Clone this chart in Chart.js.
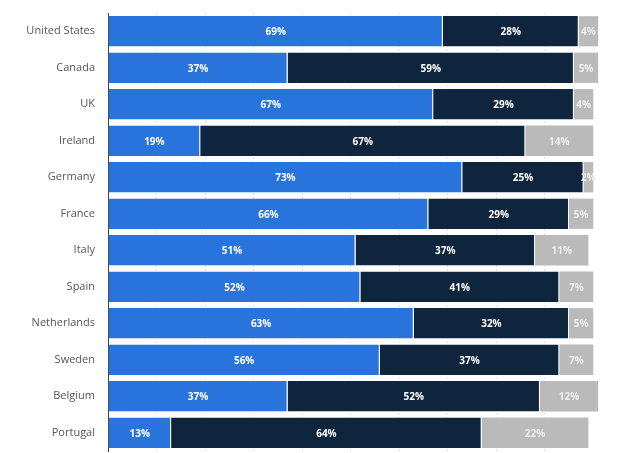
<!DOCTYPE html>
<html>
<head>
<meta charset="utf-8">
<script src="https://cdn.jsdelivr.net/npm/chart.js@4/dist/chart.umd.min.js"></script>
<style>
html,body{margin:0;padding:0;background:#fff;}
#wrap{width:638px;height:453px;position:relative;}
</style>
</head>
<body>
<div id="wrap"><canvas id="c" width="638" height="453"></canvas></div>
<script>
const countries = ["United States","Canada","UK","Ireland","Germany","France","Italy","Spain","Netherlands","Sweden","Belgium","Portugal"];
const seriesA = [69,37,67,19,73,66,51,52,63,56,37,13];
const seriesB = [28,59,29,67,25,29,37,41,32,37,52,64];
const seriesC = [4,5,4,14,2,5,11,7,5,7,12,22];

const labelPlugin = {
  id: 'segLabels',
  afterDatasetsDraw(chart) {
    const ctx = chart.ctx;
    ctx.save();
    ctx.font = 'bold 10px "Open Sans", "DejaVu Sans", sans-serif';
    ctx.textAlign = 'center';
    ctx.textBaseline = 'middle';
    chart.data.datasets.forEach((ds, di) => {
      const meta = chart.getDatasetMeta(di);
      meta.data.forEach((bar, i) => {
        const v = ds.data[i];
        const x = (bar.x + bar.base) / 2;
        ctx.fillStyle = di === 2 ? '#eeeeee' : '#ffffff';
        ctx.fillText(v + '%', x, bar.y + 1);
      });
    });
    ctx.restore();
  }
};

new Chart(document.getElementById('c'), {
  type: 'bar',
  data: {
    labels: countries,
    datasets: [
      {label: 'A', data: seriesA, backgroundColor: '#2874dc', borderColor: '#ffffff', borderWidth: {left:0, right:1, top:0, bottom:0}, borderSkipped: false, barPercentage: 0.83, categoryPercentage: 1},
      {label: 'B', data: seriesB, backgroundColor: '#0f243d', borderColor: '#ffffff', borderWidth: {left:0, right:1, top:0, bottom:0}, borderSkipped: false, barPercentage: 0.83, categoryPercentage: 1},
      {label: 'C', data: seriesC, backgroundColor: '#bababa', borderColor: '#ffffff', borderWidth: 0, barPercentage: 0.83, categoryPercentage: 1}
    ]
  },
  options: {
    indexAxis: 'y',
    responsive: false,
    animation: false,
    layout: {padding: {top: 13, bottom: 2, left: 0, right: 35}},
    plugins: {legend: {display: false}, tooltip: {enabled: false}},
    scales: {
      x: {
        stacked: true,
        min: 0,
        max: 102,
        afterFit(scale) { scale.height = 0; scale.paddingLeft = 0; scale.paddingRight = 0; },
        ticks: {display: false, stepSize: 10},
        grid: {
          drawTicks: false,
          color: (c) => (c.tick && (c.tick.value > 100 || c.tick.value === 0)) ? 'rgba(0,0,0,0)' : '#e4e4e4',
          lineWidth: 1
        },
        border: {display: true, color: 'rgba(0,0,0,0)', dash: [2,2]}
      },
      y: {
        stacked: true,
        afterFit(scale) { scale.width = 108; scale.paddingTop = 0; scale.paddingBottom = 0; },
        grid: {display: false, drawTicks: false},
        border: {display: true, color: '#444444', width: 1},
        ticks: {
          color: '#555555',
          padding: 13,
          font: {family: '"Open Sans", "DejaVu Sans", sans-serif', size: 11}
        }
      }
    }
  },
  plugins: [labelPlugin]
});
</script>
</body>
</html>
